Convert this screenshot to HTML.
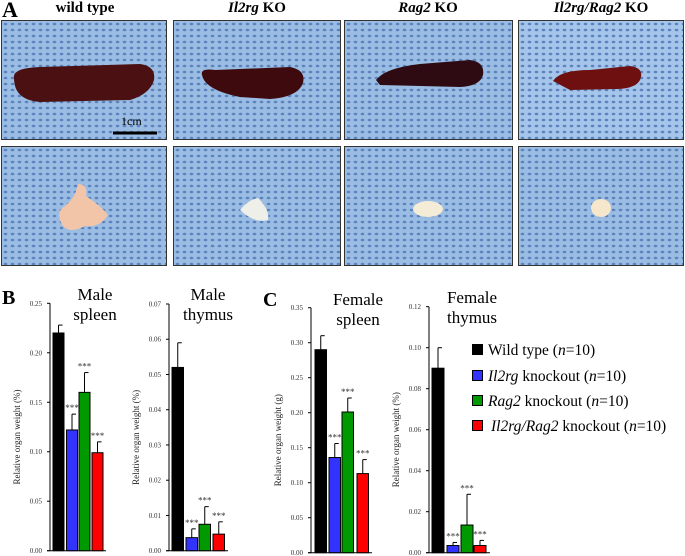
<!DOCTYPE html>
<html><head><meta charset="utf-8"><style>
body{margin:0;width:685px;height:556px;background:#fff;position:relative;overflow:hidden;font-family:"Liberation Serif","Times New Roman","DejaVu Serif",serif}
.ph{position:absolute;border:1.5px solid #333;box-sizing:border-box;background-color:#9bbde4;
background-image:radial-gradient(ellipse 2.2px 1.5px at 50% 50%,#5a82bd 70%,transparent 100%);
background-size:7px 6px}
.ph.l{background-color:#a5c5ea}
.hd{position:absolute;top:0;font-weight:bold;font-size:15px;text-align:center;width:170px}
.tt{position:absolute;font-size:17px;line-height:20px;text-align:center;width:100px;white-space:nowrap;font-family:"Liberation Serif","Times New Roman","DejaVu Serif",serif}
.lg{position:absolute;left:472px;font-size:15.5px;line-height:18px;white-space:nowrap;font-family:"Liberation Serif","Times New Roman","DejaVu Serif",serif}
.lg span.sw{display:inline-block;width:9px;height:9px;border:1px solid #000;margin-right:5px;vertical-align:0px}
svg{position:absolute;left:0;top:0}
svg text{font-family:"Liberation Serif","Times New Roman","DejaVu Serif",serif}
</style></head><body>
<div style="position:absolute;left:2px;top:-3px;font-weight:bold;font-size:22px">A</div>
<div class="hd" style="left:0">wild type</div>
<div class="hd" style="left:172px"><i>Il2rg</i> KO</div>
<div class="hd" style="left:343px"><i>Rag2</i> KO</div>
<div class="hd" style="left:516px"><i>Il2rg/Rag2</i> KO</div>
<div class="ph" style="left:1px;top:20px;width:166px;height:120px"></div>
<div class="ph" style="left:173px;top:20px;width:168px;height:120px"></div>
<div class="ph" style="left:344px;top:20px;width:169px;height:120px"></div>
<div class="ph l" style="left:518px;top:20px;width:166px;height:120px"></div>
<div class="ph" style="left:1px;top:146px;width:166px;height:120px"></div>
<div class="ph" style="left:173px;top:146px;width:168px;height:120px"></div>
<div class="ph" style="left:344px;top:146px;width:169px;height:120px"></div>
<div class="ph" style="left:518px;top:146px;width:166px;height:120px"></div>
<div style="position:absolute;left:121px;top:114px;font-size:12px">1cm</div>
<div style="position:absolute;left:2px;top:287px;font-size:20px;font-weight:bold">B</div>
<div style="position:absolute;left:263px;top:289px;font-size:20px;font-weight:bold">C</div>
<div class="tt" style="left:45px;top:285px">Male<br>spleen</div>
<div class="tt" style="left:158px;top:285px">Male<br>thymus</div>
<div class="tt" style="left:308px;top:290px">Female<br>spleen</div>
<div class="tt" style="left:422px;top:288px">Female<br>thymus</div>
<div class="lg" style="top:342px"><span class="sw" style="background:#000"></span>Wild type (<i>n</i>=10)</div>
<div class="lg" style="top:368px"><span class="sw" style="background:#3333ff"></span><i>Il2rg</i> knockout (<i>n</i>=10)</div>
<div class="lg" style="top:393px"><span class="sw" style="background:#009900"></span><i>Rag2</i> knockout (<i>n</i>=10)</div>
<div class="lg" style="top:418px"><span class="sw" style="background:#ff0000;margin-right:8px"></span><i>Il2rg/Rag2</i> knockout (<i>n</i>=10)</div>
<svg width="685" height="556" id="s">
<path d="M14,78 Q12,68 40,67 L140,64 Q156,66 154,80 Q150,94 130,100 L40,102 Q14,100 14,78Z" fill="#4a1012"/>
<path d="M202,75 Q200,68 215,70 L290,67 Q306,70 303,83 Q298,97 270,99 L240,97 Q205,90 202,75Z" fill="#3e0a0e"/>
<path d="M376,80 Q385,68 420,64 L470,60 Q485,62 483,75 Q480,86 460,87 L380,85Z" fill="#2e0a12"/>
<path d="M553,81 Q560,70 590,70 L630,66 Q645,68 640,80 Q635,89 615,89 L570,90Z" fill="#6e1010"/>
<path d="M78,184 Q88,184 86,196 Q100,205 108,215 Q100,228 85,226 Q70,234 63,226 Q56,215 62,208 Q75,200 78,184Z" fill="#f3c5a8"/>
<path d="M240,210 Q248,200 258,198 Q270,210 268,220 Q255,224 240,210Z" fill="#eeefe9"/>
<ellipse cx="428" cy="209" rx="15" ry="8" fill="#f4ecd6"/>
<ellipse cx="601" cy="208" rx="10" ry="9" fill="#f5e6cc"/>
<line x1="113" y1="133" x2="157" y2="133" stroke="#000" stroke-width="3"/>
<g id="charts"></g>
</svg>
<script>
const groups=["Wild type","Il2rg KO","Rag2 KO","Il2rg/Rag2 KO"];
const colors=["#000000","#3333ff","#009900","#ff0000"];
const maleSpleen=[0.220,0.122,0.160,0.099];
const maleSpleenErr=[0.008,0.016,0.020,0.011];
const maleThymus=[0.052,0.0037,0.0075,0.0047];
const maleThymusErr=[0.007,0.0025,0.005,0.0035];
const femaleSpleen=[0.290,0.136,0.201,0.113];
const femaleSpleenErr=[0.020,0.020,0.020,0.020];
const femaleThymus=[0.090,0.0035,0.0135,0.0035];
const femaleThymusErr=[0.010,0.0015,0.015,0.0025];
const ticksMS=["0.00","0.05","0.10","0.15","0.20","0.25"];
const ticksMT=["0.00","0.01","0.02","0.03","0.04","0.05","0.06","0.07"];
const ticksFS=["0.00","0.05","0.10","0.15","0.20","0.25","0.30","0.35"];
const ticksFT=["0.00","0.02","0.04","0.06","0.08","0.10","0.12"];
const stars=[false,true,true,true];
const charts=[
 {name:"male-spleen",vals:maleSpleen,err:maleSpleenErr,ticks:ticksMS,ax:50,end:106,y0:550.7,y1:303.3,bx:[53,66.5,79,92],bw:11,ylab:"Relative organ weight (%)"},
 {name:"male-thymus",vals:maleThymus,err:maleThymusErr,ticks:ticksMT,ax:169,end:228,y0:550.7,y1:304,bx:[172,186,199,213],bw:11.5,ylab:"Relative organ weight (%)"},
 {name:"female-spleen",vals:femaleSpleen,err:femaleSpleenErr,ticks:ticksFS,ax:311,end:372,y0:552.7,y1:307.7,bx:[315,329,342,357],bw:11.5,ylab:"Relative organ weight (g)"},
 {name:"female-thymus",vals:femaleThymus,err:femaleThymusErr,ticks:ticksFT,ax:429,end:490,y0:552.7,y1:306.7,bx:[432,447,461,474],bw:12,ylab:"Relative organ weight (%)"}
];
const NS="http://www.w3.org/2000/svg";
const root=document.getElementById("charts");
function mk(tag,attrs,parent){const e=document.createElementNS(NS,tag);for(const k in attrs)e.setAttribute(k,attrs[k]);parent.appendChild(e);return e;}
charts.forEach(c=>{
 const g=mk("g",{},root);
 
 
 const max=parseFloat(c.ticks[c.ticks.length-1]);
 const y=v=>c.y0-(v/max)*(c.y0-c.y1);
 const ax=mk("line",{x1:c.ax,x2:c.ax,y1:c.y1,y2:c.y0,stroke:"#000","stroke-width":1},g);
 
 
 const bl=mk("line",{x1:c.ax-3,x2:c.end,y1:c.y0,y2:c.y0,stroke:"#000","stroke-width":1},g);
 
 
 c.ticks.forEach(t=>{
  const yy=y(parseFloat(t));
  mk("line",{x1:c.ax-3,x2:c.ax,y1:yy,y2:yy,stroke:"#000"},g);
  const tx=mk("text",{x:c.ax-8,y:yy+2.5,"font-size":7,"text-anchor":"end",fill:"#333"},g);
  tx.textContent=t;
  
  
 });
 const yl=mk("text",{transform:`translate(${c.ax-30},${(c.y0+c.y1)/2+10}) rotate(-90)`,"font-size":9,"text-anchor":"middle",fill:"#222"},g);
 yl.textContent=c.ylab;
 
 
 c.vals.forEach((v,i)=>{
  const x=c.bx[i],w=c.bw,top=y(v),et=y(v+c.err[i]),cx=x+w/2;
  mk("line",{x1:cx,x2:cx,y1:et,y2:top,stroke:"#000"},g);
  mk("line",{x1:cx,x2:cx+4,y1:et,y2:et,stroke:"#000"},g);
  const r=mk("rect",{x:x,y:top,width:w,height:c.y0-top,fill:colors[i],stroke:"#000","stroke-width":1},g);
  
  
  if(stars[i]){
   const st=mk("text",{x:cx,y:et-3,"font-size":9,"text-anchor":"middle",fill:"#333"},g);
   st.textContent="***";
   
   
  }
 });
});
</script>
</body></html>
